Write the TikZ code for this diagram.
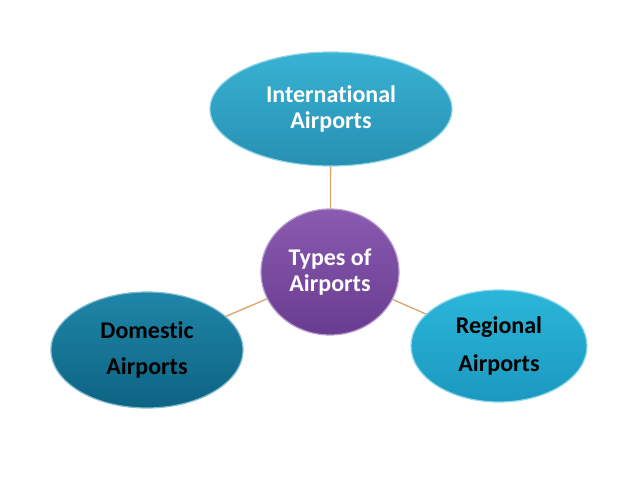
\documentclass[tikz,border=0pt]{standalone}
\usepackage{fontspec}
\setmainfont{Carlito}[Ligatures=CommonOff]
\usetikzlibrary{shapes}

\definecolor{intltop}{HTML}{38B2D3}
\definecolor{intlbot}{HTML}{2790B2}
\definecolor{typetop}{HTML}{8A5BB0}
\definecolor{typebot}{HTML}{683C90}
\definecolor{domtop}{HTML}{1F86A7}
\definecolor{dombot}{HTML}{0D6383}
\definecolor{regtop}{HTML}{2AB6DA}
\definecolor{regbot}{HTML}{1C98BF}
\definecolor{linkc}{HTML}{DCA36E}

\begin{document}
\begin{tikzpicture}[x=1pt,y=-1pt]
\tikzstyle{bubble}=[ellipse,inner sep=0pt,align=center,line width=1.2pt,font=\bfseries\fontsize{24}{26}\selectfont]
\tikzstyle{link}=[draw=linkc,line width=1.3pt]
\useasboundingbox[fill=white] (0,0) rectangle (638,479);

\node[bubble,minimum width=242pt,minimum height=114pt,top color=intltop,bottom color=intlbot,draw=intltop!55!white,text=white](I) at (331,109) {International\\Airports};
\node[bubble,minimum width=138pt,minimum height=126pt,top color=typetop,bottom color=typebot,draw=typetop!60!white,text=white](T) at (330,272) {Types of\\Airports};
\node[bubble,minimum width=192pt,minimum height=116pt,top color=domtop,bottom color=dombot,draw=domtop!55!white,text=black,font=\bfseries\fontsize{24}{36}\selectfont](D) at (147,350) {Domestic\\Airports};
\node[bubble,minimum width=176pt,minimum height=112pt,top color=regtop,bottom color=regbot,draw=regtop!55!white,text=black,font=\bfseries\fontsize{24}{38}\selectfont](R) at (499,346) {Regional\\Airports};

\draw[link] (T) -- (I);
\draw[link] (T) -- (D);
\draw[link] (T) -- (R);
\end{tikzpicture}
\end{document}
